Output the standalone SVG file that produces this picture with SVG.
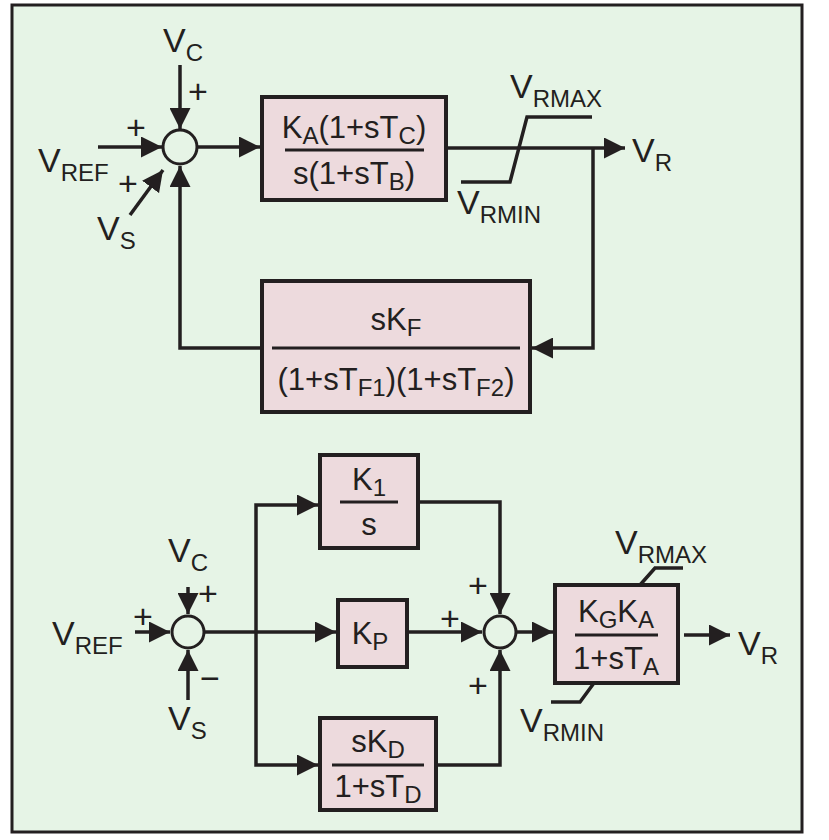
<svg xmlns="http://www.w3.org/2000/svg" width="829" height="840" viewBox="0 0 829 840">
<style>
text{font-family:"Liberation Sans",Arial,sans-serif;fill:#231f20}
.v{font-size:34px}.s{font-size:24px}.b{font-size:31px}.p{font-size:34px}
.w{stroke:#231f20;stroke-width:3.5;fill:none}
.bx{fill:#eddadd;stroke:#231f20;stroke-width:4}
.c{fill:#e6f4e6;stroke:#231f20;stroke-width:3}
</style>
<defs><marker id="a" viewBox="0 0 10 10" refX="10" refY="5" markerWidth="6" markerHeight="6" orient="auto" markerUnits="strokeWidth"><path d="M0,0L10,5L0,10z" fill="#231f20"/></marker></defs>
<rect x="12" y="5" width="790" height="827" fill="#e6f4e6" stroke="#231f20" stroke-width="3"/>
<g id="connectors">
<path class="w" d="M180,65V129" marker-end="url(#a)"/>
<path class="w" d="M98,147H162" marker-end="url(#a)"/>
<path class="w" d="M130,215L163,170" marker-end="url(#a)"/>
<path class="w" d="M197,147H260" marker-end="url(#a)"/>
<path class="w" d="M446,148H625" marker-end="url(#a)"/>
<path class="w" d="M593,148V348H532" marker-end="url(#a)"/>
<path class="w" d="M262,348H180V166" marker-end="url(#a)"/>
<path class="w" d="M461,182H510L527,117H592"/>
<path class="w" d="M188,587V614" marker-end="url(#a)"/>
<path class="w" d="M135,632H170" marker-end="url(#a)"/>
<path class="w" d="M188,700V650" marker-end="url(#a)"/>
<path class="w" d="M204,632H336" marker-end="url(#a)"/>
<path class="w" d="M256,632V505H318" marker-end="url(#a)"/>
<path class="w" d="M256,632V765H318" marker-end="url(#a)"/>
<path class="w" d="M418,502H500V614" marker-end="url(#a)"/>
<path class="w" d="M436,765H500V650" marker-end="url(#a)"/>
<path class="w" d="M407,632H482" marker-end="url(#a)"/>
<path class="w" d="M516,632H553" marker-end="url(#a)"/>
<path class="w" d="M684,635H730" marker-end="url(#a)"/>
<path class="w" d="M640,585L655,568H683"/>
<path class="w" d="M594,683L580,702H551"/>
</g>
<g id="sum1"><circle class="c" cx="180" cy="147" r="17"/></g>
<g id="sum2"><circle class="c" cx="188" cy="632" r="16"/></g>
<g id="sum3"><circle class="c" cx="500" cy="632" r="16"/></g>
<g id="labels-top">
<text class="v" x="163" y="52">V<tspan class="s" dy="9">C</tspan></text>
<text class="p" x="188" y="103">+</text>
<text class="p" x="126" y="139">+</text>
<text class="p" x="118" y="195">+</text>
<text class="v" x="38" y="172">V<tspan class="s" dy="9">REF</tspan></text>
<text class="v" x="97" y="240">V<tspan class="s" dy="9">S</tspan></text>
<text class="v" x="632" y="162">V<tspan class="s" dy="9">R</tspan></text>
<text class="v" x="510" y="98">V<tspan class="s" dy="9">RMAX</tspan></text>
<text class="v" x="457" y="214">V<tspan class="s" dy="9">RMIN</tspan></text>
</g>
<g id="box1"><rect class="bx" x="262" y="97" width="184" height="103"/>
<text class="b" x="354" y="138" text-anchor="middle">K<tspan class="s" dy="6">A</tspan><tspan dy="-6">(1+sT</tspan><tspan class="s" dy="6">C</tspan><tspan dy="-6">)</tspan></text>
<path d="M285,150H424" stroke="#231f20" stroke-width="3"/>
<text class="b" x="354" y="184" text-anchor="middle">s(1+sT<tspan class="s" dy="6">B</tspan><tspan dy="-6">)</tspan></text></g>
<g id="box2"><rect class="bx" x="262" y="281" width="268" height="131"/>
<text class="b" x="396" y="330" text-anchor="middle">sK<tspan class="s" dy="6">F</tspan></text>
<path d="M272,348H520" stroke="#231f20" stroke-width="3"/>
<text class="b" x="396" y="390" text-anchor="middle">(1+sT<tspan class="s" dy="6">F1</tspan><tspan dy="-6">)(1+sT</tspan><tspan class="s" dy="6">F2</tspan><tspan dy="-6">)</tspan></text></g>
<g id="box-k1"><rect class="bx" x="320" y="455" width="98" height="93"/>
<text class="b" x="369" y="490" text-anchor="middle">K<tspan class="s" dy="6">1</tspan></text>
<path d="M340,502H398" stroke="#231f20" stroke-width="3"/>
<text class="b" x="369" y="535" text-anchor="middle">s</text></g>
<g id="box-kp"><rect class="bx" x="338" y="600" width="69" height="67"/>
<text class="b" x="370" y="644" text-anchor="middle">K<tspan class="s" dy="6">P</tspan></text></g>
<g id="box-kd"><rect class="bx" x="320" y="718" width="116" height="92"/>
<text class="b" x="378" y="752" text-anchor="middle">sK<tspan class="s" dy="6">D</tspan></text>
<path d="M332,765H424" stroke="#231f20" stroke-width="3"/>
<text class="b" x="378" y="797" text-anchor="middle">1+sT<tspan class="s" dy="6">D</tspan></text></g>
<g id="box3"><rect class="bx" x="555" y="585" width="123" height="98"/>
<text class="b" x="616" y="622" text-anchor="middle">K<tspan class="s" dy="6">G</tspan><tspan dy="-6">K</tspan><tspan class="s" dy="6">A</tspan></text>
<path d="M575,635H658" stroke="#231f20" stroke-width="3"/>
<text class="b" x="616" y="669" text-anchor="middle">1+sT<tspan class="s" dy="6">A</tspan></text></g>
<g id="labels-bottom">
<text class="v" x="168" y="562">V<tspan class="s" dy="9">C</tspan></text>
<text class="p" x="198" y="605">+</text>
<text class="p" x="133" y="628">+</text>
<text class="v" x="52" y="645">V<tspan class="s" dy="9">REF</tspan></text>
<text class="p" x="200" y="690">−</text>
<text class="v" x="168" y="730">V<tspan class="s" dy="9">S</tspan></text>
<text class="p" x="468" y="597">+</text>
<text class="p" x="440" y="630">+</text>
<text class="p" x="468" y="697">+</text>
<text class="v" x="615" y="554">V<tspan class="s" dy="9">RMAX</tspan></text>
<text class="v" x="520" y="732">V<tspan class="s" dy="9">RMIN</tspan></text>
<text class="v" x="738" y="655">V<tspan class="s" dy="9">R</tspan></text>
</g>
</svg>
